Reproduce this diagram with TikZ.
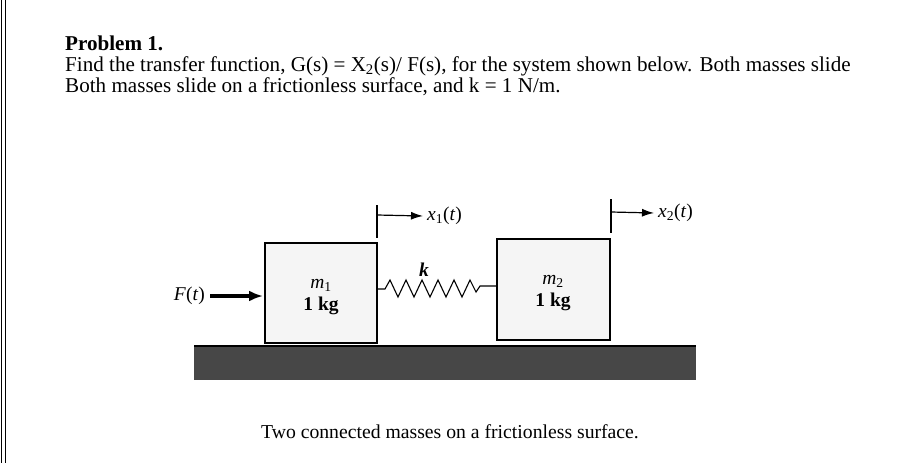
\documentclass[tikz,border=0pt]{standalone}
\usepackage{fontspec}
\setmainfont{Liberation Serif}
\usetikzlibrary{decorations.pathmorphing,arrows.meta}
\begin{document}
\begin{tikzpicture}[x=1pt,y=-1pt,
  txt/.style={anchor=base west,inner sep=0,font=\fontsize{21.1}{24}\selectfont},
  mass/.style={draw,line width=1.5pt,fill=black!4},
  lab/.style={inner sep=0,font=\fontsize{19.5}{22}\selectfont},
  arr/.style={-{Latex[length=12pt,width=8pt]},line width=1.2pt}]
\useasboundingbox (0,0) rectangle (913,463);
\fill[white] (0,0) rectangle (913,463);
\draw[line width=0.8pt] (1.5,0) -- (1.5,463) (5,0) -- (5,463);
\node[txt] (t1) at (65,50) {\textbf{Problem 1.}};
\node[txt] (t2) at (65,71) {Find the transfer function, G(s) = X\textsubscript{2}(s)/ F(s), for the system shown below. Both masses slide};
\node[txt] (t3) at (65,92) {Both masses slide on a frictionless surface, and k = 1 N/m.};
\fill[black!72] (194,346) rectangle (696,380);
\draw[line width=1.5pt] (194,346) -- (696,346);
\draw[mass] (265,243) rectangle (377,343);
\draw[mass] (497,239) rectangle (610,340);
\node[lab] (m1) at (321,285) {\textit{m}\textsubscript{1}};
\node[lab] (k1) at (321,306) {\textbf{1 kg}};
\node[lab] (m2) at (553,281) {\textit{m}\textsubscript{2}};
\node[lab] (k2) at (553,302) {\textbf{1 kg}};
\coordinate (s1) at (377,289);
\coordinate (s2) at (497,286);
\draw[line width=1.1pt] (s1) -- (385,289) -- (390,280) -- (398,297) -- (406,280) -- (414,297) -- (422,280) -- (430,297) -- (438,280) -- (446,297) -- (454,280) -- (462,297) -- (470,280) -- (476,292) -- (480,286) -- (s2);
\node[lab] (k) at (424,270) {\textbf{\textit{k}}};
\node[lab,anchor=east] (F) at (205,296) {\textit{F}(\textit{t})};
\draw[-{Latex[length=14pt,width=11pt]},line width=3.2pt] (F.east)++(5,0) -- (263,296);
\draw[line width=1.2pt] (377,205) -- (377,238) (611,199) -- (611,233);
\coordinate (a1) at (377,215);
\coordinate (a2) at (611,212);
\node[lab,anchor=west] (x1) at (427,216) {\textit{x}\textsubscript{1}(\textit{t})};
\node[lab,anchor=west] (x2) at (658,213) {\textit{x}\textsubscript{2}(\textit{t})};
\draw[arr] (a1) -- ([xshift=-4pt]x1.west);
\draw[arr] (a2) -- ([xshift=-4pt]x2.west);
\node[font=\fontsize{19.7}{22}\selectfont,anchor=base,inner sep=0] (cap) at (450,438) {Two connected masses on a frictionless surface.};
\end{tikzpicture}
\end{document}
